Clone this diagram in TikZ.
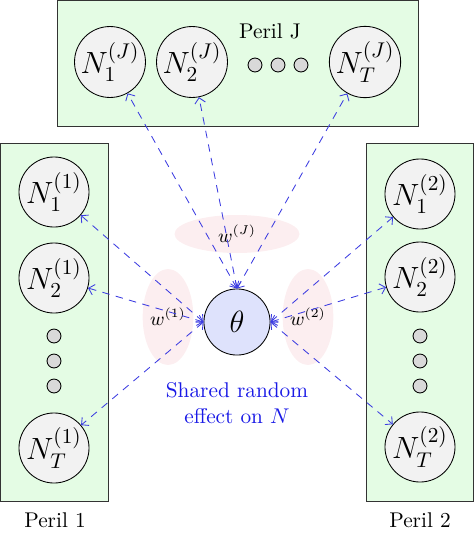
\documentclass[tikz,border=0pt]{standalone}
\usepackage{amsmath,amssymb}
\usepackage{tikz}
\usetikzlibrary{positioning,arrows.meta,calc,shapes.geometric}
\usepackage{xcolor}
\definecolor{perilgreen}{RGB}{228,252,228}
\definecolor{thetablue}{RGB}{222,226,252}
\definecolor{wpink}{RGB}{252,238,240}
\definecolor{linkblue}{RGB}{60,60,225}
\definecolor{textblue}{RGB}{25,25,230}
\tikzset{
  obs/.style={circle,draw,fill=gray!10,minimum size=1.155cm,inner sep=0pt,font=\Large},
  dot/.style={circle,draw,fill=gray!30,minimum size=0.23cm,inner sep=0pt},
  peril/.style={draw=black!80,fill=perilgreen},
  wt/.style={ellipse,fill=wpink,inner sep=0pt,font=\small},
  link/.style={{Straight Barb[length=2.5pt,width=5pt]}-{Straight Barb[length=2.5pt,width=5pt]},
    dash pattern=on 3.5pt off 3pt,linkblue,thin},
}

\begin{document}
\begin{tikzpicture}[x=0.0165cm,y=-0.0165cm]
\useasboundingbox (0,0) rectangle (474,534);

% peril boxes
\draw[peril] (57,0.5) rectangle (418,126);
\draw[peril] (0.5,143) rectangle (108,501);
\draw[peril] (366,143) rectangle (473.5,501);

% weight ellipses
\node[wt,minimum width=125*0.0165cm,minimum height=38*0.0165cm] (wJ) at (237,234) {$w^{(J)}$};
\node[wt,minimum width=46*0.0165cm,minimum height=96*0.0165cm] (w1) at (168,317) {$w^{(1)}$};
\node[wt,minimum width=46*0.0165cm,minimum height=96*0.0165cm] (w2) at (308,317) {$w^{(2)}$};

% shared effect
\node[circle,draw,fill=thetablue,minimum size=1.09cm,inner sep=0pt,font=\Large] (theta) at (237,322) {$\theta$};
\node[align=center,text=textblue] (shared) at (237,403) {Shared random\\effect on $N$};

% peril J
\node (perilJ) at (270,31) {Peril J};
\node[obs] (nJ1) at (110,62) {$N_1^{(J)}$};
\node[obs] (nJ2) at (192,62) {$N_2^{(J)}$};
\node[dot] (dJ1) at (255,65) {};
\node[dot] (dJ2) at (278,65) {};
\node[dot] (dJ3) at (301,65) {};
\node[obs] (nJT) at (365,62) {$N_T^{(J)}$};

% peril 1
\node[obs] (n11) at (54,192) {$N_1^{(1)}$};
\node[obs] (n12) at (54,278) {$N_2^{(1)}$};
\node[dot] (d11) at (54,336) {};
\node[dot] (d12) at (54,361) {};
\node[dot] (d13) at (54,386) {};
\node[obs] (n1T) at (54,448) {$N_T^{(1)}$};
\node (peril1) at (55,520) {Peril 1};

% peril 2
\node[obs] (n21) at (420,194) {$N_1^{(2)}$};
\node[obs] (n22) at (420,277) {$N_2^{(2)}$};
\node[dot] (d21) at (420,336) {};
\node[dot] (d22) at (420,361) {};
\node[dot] (d23) at (420,386) {};
\node[obs] (n2T) at (420,447) {$N_T^{(2)}$};
\node (peril2) at (420,520) {Peril 2};

% links
\foreach \n in {nJ1,nJ2,nJT}
  \draw[link] (theta.north) -- (\n);
\foreach \n in {n11,n12,n1T}
  \draw[link] (theta.west) -- (\n);
\foreach \n in {n21,n22,n2T}
  \draw[link] (theta.east) -- (\n);

\end{tikzpicture}
\end{document}
